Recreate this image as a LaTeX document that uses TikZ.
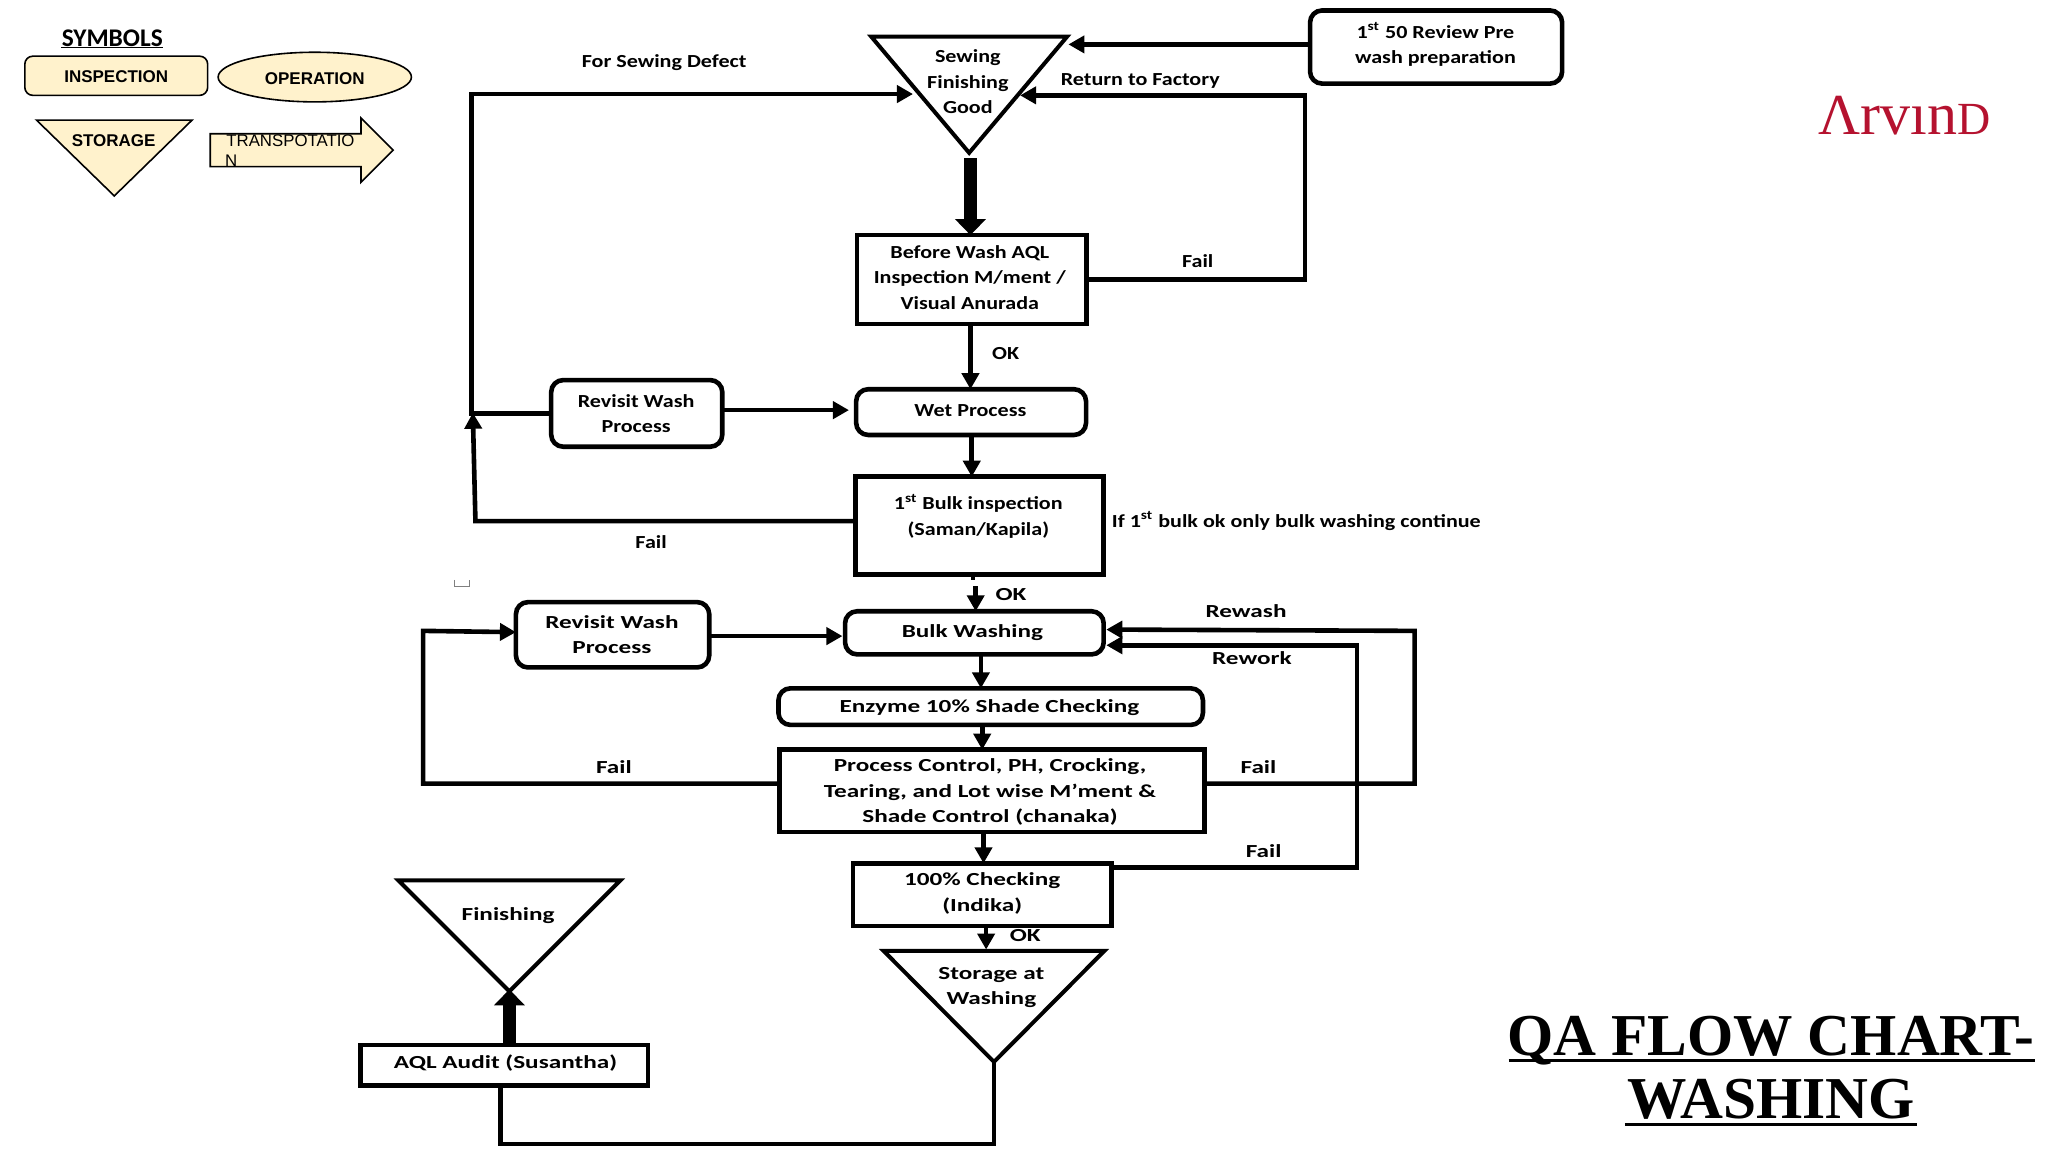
\documentclass[tikz,border=0pt]{standalone}
\usepackage{fontspec}
\usepackage{tikz}
\usetikzlibrary{arrows.meta, positioning, shapes.geometric, shapes.arrows}
\setmainfont{Carlito}
\newfontfamily\bodyfont[FakeStretch=1.2]{Carlito}
\newfontfamily\widefont[FakeStretch=1.37]{Carlito}
\newfontfamily\legendfont{Liberation Sans}
\newfontfamily\titlefont{Liberation Serif}
\def\un{.65306pt} % one unit of the sketch
\definecolor{cream}{HTML}{FFF2CC}
\definecolor{logored}{HTML}{B5122F}
\tikzset{
    lbl/.style={ % Text of the flow chart
        font=\bodyfont\bfseries\fontsize{9.2}{12.7}\selectfont,
        align=center,
        inner sep=0pt
    },
    lblw/.style={ % Lower half of the chart runs wider
        lbl,
        font=\widefont\bfseries\fontsize{9.2}{12.7}\selectfont
    },
    rect/.style={draw,line width=2.3pt,inner sep=0pt,outer sep=0pt},
    rnd/.style={rect,rounded corners=6pt},
    tri/.style={ % Storage triangle, apex pointing down
        draw,
        isosceles triangle,
        isosceles triangle stretches,
        shape border rotate=-90,
        inner sep=0pt,
        outer sep=0pt,
        anchor=apex,
        line width=2pt,
        line join=miter
    },
    ln/.style={
        line width=2.3pt,
        -{Triangle[length=8pt,width=8.5pt]},
        line join=miter
    },
    plain/.style={line width=2.3pt,line join=miter},
    fat/.style={
        line width=6.5pt,
        -{Triangle[length=8pt,width=15pt]}
    },
    leg/.style={
        font=\legendfont\bfseries\fontsize{8.5}{10}\selectfont,
        inner sep=0pt
    },
    legbox/.style={draw,line width=.8pt,fill=cream,inner sep=0pt,outer sep=0pt},
    ttl/.style={font=\titlefont\bfseries\fontsize{29.7}{32}\selectfont,inner sep=0pt}
}
\begin{document}
\begin{tikzpicture}[x=\un,y=-\un]
    \useasboundingbox[fill=white] (0,0) rectangle (1568,882);

    % symbols
    \node[font=\bfseries\fontsize{12.7}{14}\selectfont,inner sep=0pt] (symbols) at (86,29) {SYMBOLS};
    \draw[line width=.7pt] (47,36.5) -- (125,36.5);
    \node[legbox,rounded corners=4pt,minimum width=140*\un,minimum height=30*\un] (inspect) at (89,58) {};
    \node[leg] (inspecttxt) at (89,59) {INSPECTION};
    \node[legbox,ellipse,minimum width=148*\un,minimum height=38*\un] (oper) at (241,59) {};
    \node[leg] (opertxt) at (241,60) {OPERATION};
    \node[tri,legbox,minimum width=119*\un,minimum height=58*\un] (store) at (87.5,150) {};
    \node[leg] (storetxt) at (87,108) {STORAGE};
    \node[legbox,single arrow,single arrow head extend=12*\un,single arrow head indent=0pt,
          minimum width=48*\un,minimum height=140*\un,anchor=tip,
          text height=24*\un,text depth=0pt,
          single arrow tip angle=90] (trans) at (301,115) {};
    \node[font=\legendfont\fontsize{8.4}{10}\selectfont,inner sep=0pt,anchor=west] (transtxt) at (173,107.5) {TRANSPOTATIO};
    \node[font=\legendfont\fontsize{8.4}{10}\selectfont,inner sep=0pt,anchor=west] (transtxtb) at (172,123) {N};

    % logo and title
    \node[text=logored,font=\titlefont\fontsize{29}{30}\selectfont,inner sep=0pt,anchor=base] (logo) at (1458,103)
        {Λ{\fontsize{30}{30}\selectfont rvın}{\fontsize{23}{24}\selectfont D}};
    \node[ttl] (titlea) at (1356,797) {QA FLOW CHART-};
    \node[ttl] (titleb) at (1356,842) {WASHING};
    \draw[line width=1.9pt] (1155,812) -- (1558,812);
    \draw[line width=1.9pt] (1244,861) -- (1468,861);

    % flow chart
    \node[tri,minimum width=150*\un,minimum height=89*\un] (sew) at (742,117) {};
    \node[lbl] (sewtxt) at (741,62.5) {Sewing\\Finishing\\Good};
    \node[rnd,minimum width=193*\un,minimum height=56*\un] (rev) at (1099.5,36) {};
    \node[lbl] (revtxt) at (1099,34) {1\textsuperscript{st} 50 Review Pre\\wash preparation};
    \node[rect,minimum width=176*\un,minimum height=68*\un] (bw) at (744,214) {};
    \node[lbl] (bwtxt) at (742.5,212.5) {Before Wash AQL\\Inspection M/ment /\\Visual Anurada};
    \node[rnd,minimum width=176*\un,minimum height=35*\un] (wet) at (743.5,315.5) {};
    \node[lbl] (wettxt) at (743,314) {Wet Process};
    \node[rnd,minimum width=131*\un,minimum height=51*\un] (revone) at (487.5,316.5) {};
    \node[lbl] (revonetxt) at (487,316.5) {Revisit Wash\\Process};
    \node[rect,minimum width=190*\un,minimum height=75*\un] (bulk) at (750,402.5) {};
    \node[lbl] (bulktxt) at (749,395) {1\textsuperscript{st} Bulk inspection\\(Saman/Kapila)};
    \node[rnd,minimum width=148*\un,minimum height=50*\un] (revtwo) at (469,486) {};
    \node[lblw] (revtwotxt) at (468.5,486) {Revisit Wash\\Process};
    \node[rnd,minimum width=198*\un,minimum height=33*\un] (wash) at (746,484.5) {};
    \node[lblw] (washtxt) at (744.5,484) {Bulk Washing};
    \node[rnd,minimum width=325*\un,minimum height=28*\un] (enz) at (758.5,541) {};
    \node[lblw] (enztxt) at (757.5,542) {Enzyme 10\% Shade Checking};
    \node[rect,minimum width=325*\un,minimum height=63*\un] (pc) at (759.5,605.5) {};
    \node[lblw] (pctxt) at (758,606.5) {Process Control, PH, Crocking,\\Tearing, and Lot wise M’ment \&\\Shade Control (chanaka)};
    \node[rect,minimum width=198*\un,minimum height=48*\un] (chk) at (752,685) {};
    \node[lblw] (chktxt) at (752,684) {100\% Checking\\(Indika)};
    \node[tri,minimum width=169*\un,minimum height=85*\un] (stor) at (761,813) {};
    \node[lblw] (stortxt) at (759,756) {Storage at\\Washing};
    \node[tri,minimum width=170*\un,minimum height=85*\un] (fin) at (390,759) {};
    \node[lblw] (fintxt) at (389,701) {Finishing};
    \node[rect,minimum width=220*\un,minimum height=31*\un] (aql) at (386,815.5) {};
    \node[lblw] (aqltxt) at (387,814) {AQL Audit (Susantha)};

    % free ends of the connectors
    \coordinate (sewE) at (818,34);
    \coordinate (sewL) at (699,72);
    \coordinate (sewR) at (781,73);
    \coordinate (washA) at (847,482);
    \coordinate (washB) at (847,494);

    \draw[ln] (rev.west |- sewE) -- (sewE);
    \draw[ln] (bw.east) -- (999,214) |- (sewR);
    \draw[ln] (revone.west) -- (361,316.5) |- (sewL);
    \draw[ln] (revone.east |- 0,314) -- (650,314);
    \draw[ln] (bw.south -| 743,0) -- (wet.north -| 743,0);
    \draw[ln] (wet.south -| 744,0) -- (bulk.north -| 744,0);
    \draw[ln] (bulk.west |- 0,399) -- (364,399) -- (362,316);
    \draw[plain] (bulk.south -| 745,0) -- (745,444);
    \draw[ln] (747,449) -- (wash.north -| 747,0);
    \draw[ln] (revtwo.east |- 0,487) -- (645,487);
    \draw[ln] (pc.west |- 0,600) -- (324,600) -- (324,483) -- (revtwo.west |- 0,484);
    \draw[ln] (wash.south -| 751,0) -- (enz.north -| 751,0);
    \draw[ln] (enz.south -| 752,0) -- (pc.north -| 752,0);
    \draw[ln] (pc.south -| 753,0) -- (chk.north -| 753,0);
    \draw[ln] (chk.south -| 755,0) -- (755,727);
    \draw[ln] (pc.east |- 0,600) -- (1083,600) -- (1083,483) -- (washA);
    \draw[ln] (chk.east |- 0,664) -- (1039,664) |- (washB);
    \draw[plain] (stor.apex) -- (761,876) -- (383,876) -- (aql.south -| 383,0);
    \draw[fat] (743,121) -- (bw.north -| 743,0);
    \draw[fat] (aql.north -| fin.apex) -- ([yshift=1pt]fin.apex);

    % tiny mark
    \draw[gray,line width=.4pt] (348,444) -- (348,449) -- (359,449) -- (359,444);

    % labels
    \node[lbl] (lbdefect) at (508.5,48) {For Sewing Defect};
    \node[lbl] (lbreturn) at (873,62) {Return to Factory};
    \node[lbl] (lbfaila) at (917,200) {Fail};
    \node[lbl] (lboka) at (770,271) {OK};
    \node[lbl] (lbfailb) at (498.5,415) {Fail};
    \node[lbl,anchor=west] (lbif) at (851,399) {If 1\textsuperscript{st} bulk ok only bulk washing continue};
    \node[lblw] (lbokb) at (774,455.5) {OK};
    \node[lblw] (lbrewash) at (954,468) {Rewash};
    \node[lblw] (lbrework) at (958.5,504) {Rework};
    \node[lblw] (lbfailc) at (470,587) {Fail};
    \node[lblw] (lbfaild) at (963.5,587) {Fail};
    \node[lblw] (lbfaile) at (967.5,652) {Fail};
    \node[lblw] (lbokc) at (785,716) {OK};
\end{tikzpicture}
\end{document}
